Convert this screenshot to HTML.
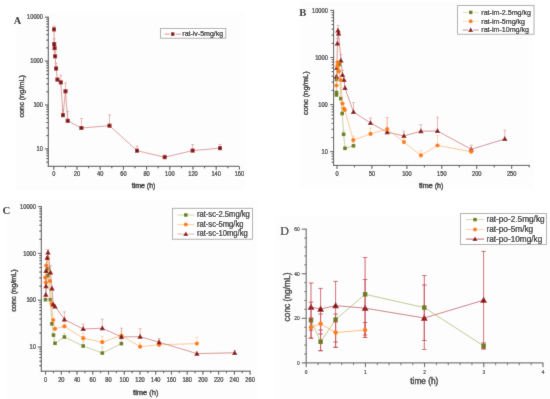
<!DOCTYPE html>
<html><head><meta charset="utf-8"><style>
html,body{margin:0;padding:0;background:#fff;width:550px;height:399px;overflow:hidden}
svg{display:block}
</style></head><body>
<svg width="550" height="399" viewBox="0 0 550 399">
<defs><filter id="bl" x="0" y="0" width="1" height="1"><feConvolveMatrix order="3" kernelMatrix="1 2 1 2 28 2 1 2 1" divisor="40" edgeMode="duplicate"/></filter></defs><g filter="url(#bl)">
<rect x="0" y="0" width="550" height="399" fill="#ffffff"/>
<rect x="16" y="13" width="229" height="177" fill="#fdfdfd"/>
<rect x="300.5" y="2" width="233" height="187" fill="#fdfdfd"/>
<rect x="6" y="200" width="251" height="199" fill="#fdfdfd"/>
<rect x="275" y="216" width="275" height="183" fill="#fdfdfd"/>
<text x="0" y="0" font-family='"Liberation Serif", serif' font-size="10.3" text-anchor="middle" fill="#111" stroke="#111" stroke-width="0" font-weight="bold" transform="translate(17.40 23.90)">A</text>
<line x1="48.30" y1="16.70" x2="48.30" y2="166.80" stroke="#444444" stroke-width="1.0"/>
<line x1="46.30" y1="162.12" x2="48.30" y2="162.12" stroke="#444444" stroke-width="1.0"/>
<line x1="46.30" y1="158.64" x2="48.30" y2="158.64" stroke="#444444" stroke-width="1.0"/>
<line x1="46.30" y1="155.70" x2="48.30" y2="155.70" stroke="#444444" stroke-width="1.0"/>
<line x1="46.30" y1="153.15" x2="48.30" y2="153.15" stroke="#444444" stroke-width="1.0"/>
<line x1="46.30" y1="150.91" x2="48.30" y2="150.91" stroke="#444444" stroke-width="1.0"/>
<line x1="44.90" y1="148.90" x2="48.30" y2="148.90" stroke="#444444" stroke-width="1.0"/>
<text x="0" y="0" font-family='"Liberation Sans", sans-serif' font-size="7.4" text-anchor="end" fill="#222" stroke="#222" stroke-width="0.22" font-weight="normal" transform="translate(42.90 151.12) scale(0.77 1)">10</text>
<line x1="46.30" y1="135.68" x2="48.30" y2="135.68" stroke="#444444" stroke-width="1.0"/>
<line x1="46.30" y1="127.95" x2="48.30" y2="127.95" stroke="#444444" stroke-width="1.0"/>
<line x1="46.30" y1="122.47" x2="48.30" y2="122.47" stroke="#444444" stroke-width="1.0"/>
<line x1="46.30" y1="118.22" x2="48.30" y2="118.22" stroke="#444444" stroke-width="1.0"/>
<line x1="46.30" y1="114.74" x2="48.30" y2="114.74" stroke="#444444" stroke-width="1.0"/>
<line x1="46.30" y1="111.80" x2="48.30" y2="111.80" stroke="#444444" stroke-width="1.0"/>
<line x1="46.30" y1="109.25" x2="48.30" y2="109.25" stroke="#444444" stroke-width="1.0"/>
<line x1="46.30" y1="107.01" x2="48.30" y2="107.01" stroke="#444444" stroke-width="1.0"/>
<line x1="44.90" y1="105.00" x2="48.30" y2="105.00" stroke="#444444" stroke-width="1.0"/>
<text x="0" y="0" font-family='"Liberation Sans", sans-serif' font-size="7.4" text-anchor="end" fill="#222" stroke="#222" stroke-width="0.22" font-weight="normal" transform="translate(42.90 107.22) scale(0.77 1)">100</text>
<line x1="46.30" y1="91.78" x2="48.30" y2="91.78" stroke="#444444" stroke-width="1.0"/>
<line x1="46.30" y1="84.05" x2="48.30" y2="84.05" stroke="#444444" stroke-width="1.0"/>
<line x1="46.30" y1="78.57" x2="48.30" y2="78.57" stroke="#444444" stroke-width="1.0"/>
<line x1="46.30" y1="74.32" x2="48.30" y2="74.32" stroke="#444444" stroke-width="1.0"/>
<line x1="46.30" y1="70.84" x2="48.30" y2="70.84" stroke="#444444" stroke-width="1.0"/>
<line x1="46.30" y1="67.90" x2="48.30" y2="67.90" stroke="#444444" stroke-width="1.0"/>
<line x1="46.30" y1="65.35" x2="48.30" y2="65.35" stroke="#444444" stroke-width="1.0"/>
<line x1="46.30" y1="63.11" x2="48.30" y2="63.11" stroke="#444444" stroke-width="1.0"/>
<line x1="44.90" y1="61.10" x2="48.30" y2="61.10" stroke="#444444" stroke-width="1.0"/>
<text x="0" y="0" font-family='"Liberation Sans", sans-serif' font-size="7.4" text-anchor="end" fill="#222" stroke="#222" stroke-width="0.22" font-weight="normal" transform="translate(42.90 63.32) scale(0.77 1)">1000</text>
<line x1="46.30" y1="47.88" x2="48.30" y2="47.88" stroke="#444444" stroke-width="1.0"/>
<line x1="46.30" y1="40.15" x2="48.30" y2="40.15" stroke="#444444" stroke-width="1.0"/>
<line x1="46.30" y1="34.67" x2="48.30" y2="34.67" stroke="#444444" stroke-width="1.0"/>
<line x1="46.30" y1="30.42" x2="48.30" y2="30.42" stroke="#444444" stroke-width="1.0"/>
<line x1="46.30" y1="26.94" x2="48.30" y2="26.94" stroke="#444444" stroke-width="1.0"/>
<line x1="46.30" y1="24.00" x2="48.30" y2="24.00" stroke="#444444" stroke-width="1.0"/>
<line x1="46.30" y1="21.45" x2="48.30" y2="21.45" stroke="#444444" stroke-width="1.0"/>
<line x1="46.30" y1="19.21" x2="48.30" y2="19.21" stroke="#444444" stroke-width="1.0"/>
<line x1="44.90" y1="17.20" x2="48.30" y2="17.20" stroke="#444444" stroke-width="1.0"/>
<text x="0" y="0" font-family='"Liberation Sans", sans-serif' font-size="7.4" text-anchor="end" fill="#222" stroke="#222" stroke-width="0.22" font-weight="normal" transform="translate(42.90 19.42) scale(0.77 1)">10000</text>
<line x1="47.80" y1="166.30" x2="239.10" y2="166.30" stroke="#444444" stroke-width="1.0"/>
<line x1="53.80" y1="166.30" x2="53.80" y2="169.80" stroke="#444444" stroke-width="1.0"/>
<text x="0" y="0" font-family='"Liberation Sans", sans-serif' font-size="7.4" text-anchor="middle" fill="#222" stroke="#222" stroke-width="0.22" font-weight="normal" transform="translate(53.80 176.30) scale(0.77 1)">0</text>
<line x1="65.40" y1="166.30" x2="65.40" y2="168.30" stroke="#444444" stroke-width="1.0"/>
<line x1="77.00" y1="166.30" x2="77.00" y2="169.80" stroke="#444444" stroke-width="1.0"/>
<text x="0" y="0" font-family='"Liberation Sans", sans-serif' font-size="7.4" text-anchor="middle" fill="#222" stroke="#222" stroke-width="0.22" font-weight="normal" transform="translate(77.00 176.30) scale(0.77 1)">20</text>
<line x1="88.60" y1="166.30" x2="88.60" y2="168.30" stroke="#444444" stroke-width="1.0"/>
<line x1="100.20" y1="166.30" x2="100.20" y2="169.80" stroke="#444444" stroke-width="1.0"/>
<text x="0" y="0" font-family='"Liberation Sans", sans-serif' font-size="7.4" text-anchor="middle" fill="#222" stroke="#222" stroke-width="0.22" font-weight="normal" transform="translate(100.20 176.30) scale(0.77 1)">40</text>
<line x1="111.80" y1="166.30" x2="111.80" y2="168.30" stroke="#444444" stroke-width="1.0"/>
<line x1="123.40" y1="166.30" x2="123.40" y2="169.80" stroke="#444444" stroke-width="1.0"/>
<text x="0" y="0" font-family='"Liberation Sans", sans-serif' font-size="7.4" text-anchor="middle" fill="#222" stroke="#222" stroke-width="0.22" font-weight="normal" transform="translate(123.40 176.30) scale(0.77 1)">60</text>
<line x1="135.00" y1="166.30" x2="135.00" y2="168.30" stroke="#444444" stroke-width="1.0"/>
<line x1="146.60" y1="166.30" x2="146.60" y2="169.80" stroke="#444444" stroke-width="1.0"/>
<text x="0" y="0" font-family='"Liberation Sans", sans-serif' font-size="7.4" text-anchor="middle" fill="#222" stroke="#222" stroke-width="0.22" font-weight="normal" transform="translate(146.60 176.30) scale(0.77 1)">80</text>
<line x1="158.20" y1="166.30" x2="158.20" y2="168.30" stroke="#444444" stroke-width="1.0"/>
<line x1="169.80" y1="166.30" x2="169.80" y2="169.80" stroke="#444444" stroke-width="1.0"/>
<text x="0" y="0" font-family='"Liberation Sans", sans-serif' font-size="7.4" text-anchor="middle" fill="#222" stroke="#222" stroke-width="0.22" font-weight="normal" transform="translate(169.80 176.30) scale(0.77 1)">100</text>
<line x1="181.40" y1="166.30" x2="181.40" y2="168.30" stroke="#444444" stroke-width="1.0"/>
<line x1="193.00" y1="166.30" x2="193.00" y2="169.80" stroke="#444444" stroke-width="1.0"/>
<text x="0" y="0" font-family='"Liberation Sans", sans-serif' font-size="7.4" text-anchor="middle" fill="#222" stroke="#222" stroke-width="0.22" font-weight="normal" transform="translate(193.00 176.30) scale(0.77 1)">120</text>
<line x1="204.60" y1="166.30" x2="204.60" y2="168.30" stroke="#444444" stroke-width="1.0"/>
<line x1="216.20" y1="166.30" x2="216.20" y2="169.80" stroke="#444444" stroke-width="1.0"/>
<text x="0" y="0" font-family='"Liberation Sans", sans-serif' font-size="7.4" text-anchor="middle" fill="#222" stroke="#222" stroke-width="0.22" font-weight="normal" transform="translate(216.20 176.30) scale(0.77 1)">140</text>
<line x1="227.80" y1="166.30" x2="227.80" y2="168.30" stroke="#444444" stroke-width="1.0"/>
<line x1="239.40" y1="166.30" x2="239.40" y2="169.80" stroke="#444444" stroke-width="1.0"/>
<text x="0" y="0" font-family='"Liberation Sans", sans-serif' font-size="7.4" text-anchor="middle" fill="#222" stroke="#222" stroke-width="0.22" font-weight="normal" transform="translate(239.40 176.30) scale(0.77 1)">160</text>
<text x="0" y="0" font-family='"Liberation Sans", sans-serif' font-size="7.3" text-anchor="middle" fill="#222" stroke="#222" stroke-width="0.35" font-weight="normal" transform="translate(23.50 96.30) rotate(-90)">conc (ng/mL)</text>
<text x="0" y="0" font-family='"Liberation Sans", sans-serif' font-size="7.0" text-anchor="middle" fill="#222" stroke="#222" stroke-width="0.35" font-weight="normal" transform="translate(143.50 187.60)">time (h)</text>
<polyline points="54.00,29.40 54.20,44.00 54.60,48.20 55.10,56.30 56.10,68.50 57.40,79.60 60.80,82.40 63.00,115.20 65.50,91.30 67.70,120.80 81.40,128.00 109.50,125.70 137.00,150.70 164.70,157.20 192.60,150.60 220.00,148.20" fill="none" stroke="#d07474" stroke-width="0.7"/>
<line x1="54.00" y1="29.40" x2="54.00" y2="26.00" stroke="#d98c8c" stroke-width="0.6"/>
<line x1="52.50" y1="26.00" x2="55.50" y2="26.00" stroke="#d98c8c" stroke-width="0.6"/>
<line x1="54.20" y1="44.00" x2="54.20" y2="38.80" stroke="#d98c8c" stroke-width="0.6"/>
<line x1="52.70" y1="38.80" x2="55.70" y2="38.80" stroke="#d98c8c" stroke-width="0.6"/>
<line x1="55.10" y1="56.30" x2="55.10" y2="52.00" stroke="#d98c8c" stroke-width="0.6"/>
<line x1="53.60" y1="52.00" x2="56.60" y2="52.00" stroke="#d98c8c" stroke-width="0.6"/>
<line x1="56.10" y1="68.50" x2="56.10" y2="63.20" stroke="#d98c8c" stroke-width="0.6"/>
<line x1="54.60" y1="63.20" x2="57.60" y2="63.20" stroke="#d98c8c" stroke-width="0.6"/>
<line x1="60.80" y1="82.40" x2="60.80" y2="75.20" stroke="#d98c8c" stroke-width="0.6"/>
<line x1="59.30" y1="75.20" x2="62.30" y2="75.20" stroke="#d98c8c" stroke-width="0.6"/>
<line x1="63.00" y1="115.20" x2="63.00" y2="110.00" stroke="#d98c8c" stroke-width="0.6"/>
<line x1="61.50" y1="110.00" x2="64.50" y2="110.00" stroke="#d98c8c" stroke-width="0.6"/>
<line x1="65.50" y1="91.30" x2="65.50" y2="83.00" stroke="#d98c8c" stroke-width="0.6"/>
<line x1="64.00" y1="83.00" x2="67.00" y2="83.00" stroke="#d98c8c" stroke-width="0.6"/>
<line x1="67.70" y1="120.80" x2="67.70" y2="111.50" stroke="#d98c8c" stroke-width="0.6"/>
<line x1="66.20" y1="111.50" x2="69.20" y2="111.50" stroke="#d98c8c" stroke-width="0.6"/>
<line x1="81.40" y1="128.00" x2="81.40" y2="118.50" stroke="#d98c8c" stroke-width="0.6"/>
<line x1="79.90" y1="118.50" x2="82.90" y2="118.50" stroke="#d98c8c" stroke-width="0.6"/>
<line x1="109.50" y1="125.70" x2="109.50" y2="115.00" stroke="#d98c8c" stroke-width="0.6"/>
<line x1="108.00" y1="115.00" x2="111.00" y2="115.00" stroke="#d98c8c" stroke-width="0.6"/>
<line x1="137.00" y1="150.70" x2="137.00" y2="146.20" stroke="#d98c8c" stroke-width="0.6"/>
<line x1="135.50" y1="146.20" x2="138.50" y2="146.20" stroke="#d98c8c" stroke-width="0.6"/>
<line x1="164.70" y1="157.20" x2="164.70" y2="155.00" stroke="#d98c8c" stroke-width="0.6"/>
<line x1="163.20" y1="155.00" x2="166.20" y2="155.00" stroke="#d98c8c" stroke-width="0.6"/>
<line x1="192.60" y1="150.60" x2="192.60" y2="144.50" stroke="#d98c8c" stroke-width="0.6"/>
<line x1="191.10" y1="144.50" x2="194.10" y2="144.50" stroke="#d98c8c" stroke-width="0.6"/>
<line x1="220.00" y1="148.20" x2="220.00" y2="144.50" stroke="#d98c8c" stroke-width="0.6"/>
<line x1="218.50" y1="144.50" x2="221.50" y2="144.50" stroke="#d98c8c" stroke-width="0.6"/>
<rect x="52.00" y="27.40" width="4.00" height="4.00" fill="#8b0a0a"/>
<rect x="52.20" y="42.00" width="4.00" height="4.00" fill="#8b0a0a"/>
<rect x="52.60" y="46.20" width="4.00" height="4.00" fill="#8b0a0a"/>
<rect x="53.10" y="54.30" width="4.00" height="4.00" fill="#8b0a0a"/>
<rect x="54.10" y="66.50" width="4.00" height="4.00" fill="#8b0a0a"/>
<rect x="55.40" y="77.60" width="4.00" height="4.00" fill="#8b0a0a"/>
<rect x="58.80" y="80.40" width="4.00" height="4.00" fill="#8b0a0a"/>
<rect x="61.00" y="113.20" width="4.00" height="4.00" fill="#8b0a0a"/>
<rect x="63.50" y="89.30" width="4.00" height="4.00" fill="#8b0a0a"/>
<rect x="65.70" y="118.80" width="4.00" height="4.00" fill="#8b0a0a"/>
<rect x="79.40" y="126.00" width="4.00" height="4.00" fill="#8b0a0a"/>
<rect x="107.50" y="123.70" width="4.00" height="4.00" fill="#8b0a0a"/>
<rect x="135.00" y="148.70" width="4.00" height="4.00" fill="#8b0a0a"/>
<rect x="162.70" y="155.20" width="4.00" height="4.00" fill="#8b0a0a"/>
<rect x="190.60" y="148.60" width="4.00" height="4.00" fill="#8b0a0a"/>
<rect x="218.00" y="146.20" width="4.00" height="4.00" fill="#8b0a0a"/>
<rect x="160.50" y="28.40" width="65.30" height="9.80" fill="#fff" stroke="#9a9a9a" stroke-width="0.8"/>
<line x1="164.50" y1="34.10" x2="169.70" y2="34.10" stroke="#c86464" stroke-width="0.7"/>
<line x1="175.70" y1="34.10" x2="180.90" y2="34.10" stroke="#c86464" stroke-width="0.7"/>
<rect x="170.95" y="32.35" width="3.50" height="3.50" fill="#8b0a0a"/>
<text x="0" y="0" font-family='"Liberation Sans", sans-serif' font-size="7.8" text-anchor="start" fill="#151515" stroke="#151515" stroke-width="0.22" font-weight="normal" transform="translate(182.30 36.16) scale(0.9 1)">rat-iv-5mg/kg</text>
<text x="0" y="0" font-family='"Liberation Serif", serif' font-size="10.6" text-anchor="middle" fill="#111" stroke="#111" stroke-width="0" font-weight="bold" transform="translate(302.80 15.60)">B</text>
<line x1="333.60" y1="9.90" x2="333.60" y2="165.90" stroke="#444444" stroke-width="1.0"/>
<line x1="331.60" y1="162.15" x2="333.60" y2="162.15" stroke="#444444" stroke-width="1.0"/>
<line x1="331.60" y1="159.00" x2="333.60" y2="159.00" stroke="#444444" stroke-width="1.0"/>
<line x1="331.60" y1="156.26" x2="333.60" y2="156.26" stroke="#444444" stroke-width="1.0"/>
<line x1="331.60" y1="153.86" x2="333.60" y2="153.86" stroke="#444444" stroke-width="1.0"/>
<line x1="330.20" y1="151.70" x2="333.60" y2="151.70" stroke="#444444" stroke-width="1.0"/>
<text x="0" y="0" font-family='"Liberation Sans", sans-serif' font-size="7.4" text-anchor="end" fill="#222" stroke="#222" stroke-width="0.22" font-weight="normal" transform="translate(327.80 153.92) scale(0.77 1)">10</text>
<line x1="331.60" y1="137.52" x2="333.60" y2="137.52" stroke="#444444" stroke-width="1.0"/>
<line x1="331.60" y1="129.23" x2="333.60" y2="129.23" stroke="#444444" stroke-width="1.0"/>
<line x1="331.60" y1="123.34" x2="333.60" y2="123.34" stroke="#444444" stroke-width="1.0"/>
<line x1="331.60" y1="118.78" x2="333.60" y2="118.78" stroke="#444444" stroke-width="1.0"/>
<line x1="331.60" y1="115.05" x2="333.60" y2="115.05" stroke="#444444" stroke-width="1.0"/>
<line x1="331.60" y1="111.90" x2="333.60" y2="111.90" stroke="#444444" stroke-width="1.0"/>
<line x1="331.60" y1="109.16" x2="333.60" y2="109.16" stroke="#444444" stroke-width="1.0"/>
<line x1="331.60" y1="106.76" x2="333.60" y2="106.76" stroke="#444444" stroke-width="1.0"/>
<line x1="330.20" y1="104.60" x2="333.60" y2="104.60" stroke="#444444" stroke-width="1.0"/>
<text x="0" y="0" font-family='"Liberation Sans", sans-serif' font-size="7.4" text-anchor="end" fill="#222" stroke="#222" stroke-width="0.22" font-weight="normal" transform="translate(327.80 106.82) scale(0.77 1)">100</text>
<line x1="331.60" y1="90.42" x2="333.60" y2="90.42" stroke="#444444" stroke-width="1.0"/>
<line x1="331.60" y1="82.13" x2="333.60" y2="82.13" stroke="#444444" stroke-width="1.0"/>
<line x1="331.60" y1="76.24" x2="333.60" y2="76.24" stroke="#444444" stroke-width="1.0"/>
<line x1="331.60" y1="71.68" x2="333.60" y2="71.68" stroke="#444444" stroke-width="1.0"/>
<line x1="331.60" y1="67.95" x2="333.60" y2="67.95" stroke="#444444" stroke-width="1.0"/>
<line x1="331.60" y1="64.80" x2="333.60" y2="64.80" stroke="#444444" stroke-width="1.0"/>
<line x1="331.60" y1="62.06" x2="333.60" y2="62.06" stroke="#444444" stroke-width="1.0"/>
<line x1="331.60" y1="59.66" x2="333.60" y2="59.66" stroke="#444444" stroke-width="1.0"/>
<line x1="330.20" y1="57.50" x2="333.60" y2="57.50" stroke="#444444" stroke-width="1.0"/>
<text x="0" y="0" font-family='"Liberation Sans", sans-serif' font-size="7.4" text-anchor="end" fill="#222" stroke="#222" stroke-width="0.22" font-weight="normal" transform="translate(327.80 59.72) scale(0.77 1)">1000</text>
<line x1="331.60" y1="43.32" x2="333.60" y2="43.32" stroke="#444444" stroke-width="1.0"/>
<line x1="331.60" y1="35.03" x2="333.60" y2="35.03" stroke="#444444" stroke-width="1.0"/>
<line x1="331.60" y1="29.14" x2="333.60" y2="29.14" stroke="#444444" stroke-width="1.0"/>
<line x1="331.60" y1="24.58" x2="333.60" y2="24.58" stroke="#444444" stroke-width="1.0"/>
<line x1="331.60" y1="20.85" x2="333.60" y2="20.85" stroke="#444444" stroke-width="1.0"/>
<line x1="331.60" y1="17.70" x2="333.60" y2="17.70" stroke="#444444" stroke-width="1.0"/>
<line x1="331.60" y1="14.96" x2="333.60" y2="14.96" stroke="#444444" stroke-width="1.0"/>
<line x1="331.60" y1="12.56" x2="333.60" y2="12.56" stroke="#444444" stroke-width="1.0"/>
<line x1="330.20" y1="10.40" x2="333.60" y2="10.40" stroke="#444444" stroke-width="1.0"/>
<text x="0" y="0" font-family='"Liberation Sans", sans-serif' font-size="7.4" text-anchor="end" fill="#222" stroke="#222" stroke-width="0.22" font-weight="normal" transform="translate(327.80 12.62) scale(0.77 1)">10000</text>
<line x1="333.10" y1="165.40" x2="529.80" y2="165.40" stroke="#444444" stroke-width="1.0"/>
<line x1="337.00" y1="165.40" x2="337.00" y2="168.90" stroke="#444444" stroke-width="1.0"/>
<text x="0" y="0" font-family='"Liberation Sans", sans-serif' font-size="7.4" text-anchor="middle" fill="#222" stroke="#222" stroke-width="0.22" font-weight="normal" transform="translate(337.00 175.90) scale(0.77 1)">0</text>
<line x1="354.47" y1="165.40" x2="354.47" y2="167.40" stroke="#444444" stroke-width="1.0"/>
<line x1="371.94" y1="165.40" x2="371.94" y2="168.90" stroke="#444444" stroke-width="1.0"/>
<text x="0" y="0" font-family='"Liberation Sans", sans-serif' font-size="7.4" text-anchor="middle" fill="#222" stroke="#222" stroke-width="0.22" font-weight="normal" transform="translate(371.94 175.90) scale(0.77 1)">50</text>
<line x1="389.41" y1="165.40" x2="389.41" y2="167.40" stroke="#444444" stroke-width="1.0"/>
<line x1="406.88" y1="165.40" x2="406.88" y2="168.90" stroke="#444444" stroke-width="1.0"/>
<text x="0" y="0" font-family='"Liberation Sans", sans-serif' font-size="7.4" text-anchor="middle" fill="#222" stroke="#222" stroke-width="0.22" font-weight="normal" transform="translate(406.88 175.90) scale(0.77 1)">100</text>
<line x1="424.35" y1="165.40" x2="424.35" y2="167.40" stroke="#444444" stroke-width="1.0"/>
<line x1="441.82" y1="165.40" x2="441.82" y2="168.90" stroke="#444444" stroke-width="1.0"/>
<text x="0" y="0" font-family='"Liberation Sans", sans-serif' font-size="7.4" text-anchor="middle" fill="#222" stroke="#222" stroke-width="0.22" font-weight="normal" transform="translate(441.82 175.90) scale(0.77 1)">150</text>
<line x1="459.29" y1="165.40" x2="459.29" y2="167.40" stroke="#444444" stroke-width="1.0"/>
<line x1="476.76" y1="165.40" x2="476.76" y2="168.90" stroke="#444444" stroke-width="1.0"/>
<text x="0" y="0" font-family='"Liberation Sans", sans-serif' font-size="7.4" text-anchor="middle" fill="#222" stroke="#222" stroke-width="0.22" font-weight="normal" transform="translate(476.76 175.90) scale(0.77 1)">200</text>
<line x1="494.23" y1="165.40" x2="494.23" y2="167.40" stroke="#444444" stroke-width="1.0"/>
<line x1="511.70" y1="165.40" x2="511.70" y2="168.90" stroke="#444444" stroke-width="1.0"/>
<text x="0" y="0" font-family='"Liberation Sans", sans-serif' font-size="7.4" text-anchor="middle" fill="#222" stroke="#222" stroke-width="0.22" font-weight="normal" transform="translate(511.70 175.90) scale(0.77 1)">250</text>
<line x1="529.17" y1="165.40" x2="529.17" y2="167.40" stroke="#444444" stroke-width="1.0"/>
<text x="0" y="0" font-family='"Liberation Sans", sans-serif' font-size="7.5" text-anchor="middle" fill="#222" stroke="#222" stroke-width="0.35" font-weight="normal" transform="translate(307.60 93.20) rotate(-90)">conc (ng/mL)</text>
<text x="0" y="0" font-family='"Liberation Sans", sans-serif' font-size="7.2" text-anchor="middle" fill="#222" stroke="#222" stroke-width="0.35" font-weight="normal" transform="translate(431.30 187.60)">time (h)</text>
<polyline points="336.50,95.00 336.50,92.50 336.50,79.50 339.10,64.50 340.80,98.60 342.20,113.50 343.60,134.30 345.00,148.30 353.50,145.80" fill="none" stroke="#b4bb78" stroke-width="0.7"/>
<line x1="342.20" y1="113.50" x2="342.20" y2="108.00" stroke="#c4c890" stroke-width="0.6"/>
<line x1="340.70" y1="108.00" x2="343.70" y2="108.00" stroke="#c4c890" stroke-width="0.6"/>
<line x1="343.60" y1="134.30" x2="343.60" y2="131.00" stroke="#c4c890" stroke-width="0.6"/>
<line x1="342.10" y1="131.00" x2="345.10" y2="131.00" stroke="#c4c890" stroke-width="0.6"/>
<line x1="353.50" y1="145.80" x2="353.50" y2="142.50" stroke="#c4c890" stroke-width="0.6"/>
<line x1="352.00" y1="142.50" x2="355.00" y2="142.50" stroke="#c4c890" stroke-width="0.6"/>
<rect x="334.70" y="93.20" width="3.60" height="3.60" fill="#6e7a12"/>
<rect x="334.70" y="90.70" width="3.60" height="3.60" fill="#6e7a12"/>
<rect x="334.70" y="77.70" width="3.60" height="3.60" fill="#6e7a12"/>
<rect x="337.30" y="62.70" width="3.60" height="3.60" fill="#6e7a12"/>
<rect x="339.00" y="96.80" width="3.60" height="3.60" fill="#6e7a12"/>
<rect x="340.40" y="111.70" width="3.60" height="3.60" fill="#6e7a12"/>
<rect x="341.80" y="132.50" width="3.60" height="3.60" fill="#6e7a12"/>
<rect x="343.20" y="146.50" width="3.60" height="3.60" fill="#6e7a12"/>
<rect x="351.70" y="144.00" width="3.60" height="3.60" fill="#6e7a12"/>
<polyline points="336.50,76.50 336.90,68.00 337.40,43.30 338.00,30.50 338.60,33.50 340.90,60.40 342.50,75.00 344.00,80.00 345.00,88.00 353.50,112.00 370.50,123.00 387.20,132.10 403.90,136.00 420.90,131.20 437.50,131.00 471.20,149.30 504.80,139.00" fill="none" stroke="#c86464" stroke-width="0.7"/>
<line x1="337.40" y1="43.30" x2="337.40" y2="38.40" stroke="#d98c8c" stroke-width="0.6"/>
<line x1="335.90" y1="38.40" x2="338.90" y2="38.40" stroke="#d98c8c" stroke-width="0.6"/>
<line x1="338.00" y1="30.50" x2="338.00" y2="25.40" stroke="#d98c8c" stroke-width="0.6"/>
<line x1="336.50" y1="25.40" x2="339.50" y2="25.40" stroke="#d98c8c" stroke-width="0.6"/>
<line x1="340.90" y1="60.40" x2="340.90" y2="54.60" stroke="#d98c8c" stroke-width="0.6"/>
<line x1="339.40" y1="54.60" x2="342.40" y2="54.60" stroke="#d98c8c" stroke-width="0.6"/>
<line x1="342.50" y1="75.00" x2="342.50" y2="70.20" stroke="#d98c8c" stroke-width="0.6"/>
<line x1="341.00" y1="70.20" x2="344.00" y2="70.20" stroke="#d98c8c" stroke-width="0.6"/>
<line x1="353.50" y1="112.00" x2="353.50" y2="102.60" stroke="#d98c8c" stroke-width="0.6"/>
<line x1="352.00" y1="102.60" x2="355.00" y2="102.60" stroke="#d98c8c" stroke-width="0.6"/>
<line x1="370.50" y1="123.00" x2="370.50" y2="118.00" stroke="#d98c8c" stroke-width="0.6"/>
<line x1="369.00" y1="118.00" x2="372.00" y2="118.00" stroke="#d98c8c" stroke-width="0.6"/>
<line x1="387.20" y1="132.10" x2="387.20" y2="117.50" stroke="#d98c8c" stroke-width="0.6"/>
<line x1="385.70" y1="117.50" x2="388.70" y2="117.50" stroke="#d98c8c" stroke-width="0.6"/>
<line x1="403.90" y1="136.00" x2="403.90" y2="131.20" stroke="#d98c8c" stroke-width="0.6"/>
<line x1="402.40" y1="131.20" x2="405.40" y2="131.20" stroke="#d98c8c" stroke-width="0.6"/>
<line x1="420.90" y1="131.20" x2="420.90" y2="124.60" stroke="#d98c8c" stroke-width="0.6"/>
<line x1="419.40" y1="124.60" x2="422.40" y2="124.60" stroke="#d98c8c" stroke-width="0.6"/>
<line x1="437.50" y1="131.00" x2="437.50" y2="117.30" stroke="#d98c8c" stroke-width="0.6"/>
<line x1="436.00" y1="117.30" x2="439.00" y2="117.30" stroke="#d98c8c" stroke-width="0.6"/>
<line x1="471.20" y1="149.30" x2="471.20" y2="145.20" stroke="#d98c8c" stroke-width="0.6"/>
<line x1="469.70" y1="145.20" x2="472.70" y2="145.20" stroke="#d98c8c" stroke-width="0.6"/>
<line x1="504.80" y1="139.00" x2="504.80" y2="130.10" stroke="#d98c8c" stroke-width="0.6"/>
<line x1="503.30" y1="130.10" x2="506.30" y2="130.10" stroke="#d98c8c" stroke-width="0.6"/>
<polygon points="336.50,73.59 339.20,78.61 333.80,78.61" fill="#8b0a0a"/>
<polygon points="336.90,65.09 339.60,70.11 334.20,70.11" fill="#8b0a0a"/>
<polygon points="337.40,40.39 340.10,45.41 334.70,45.41" fill="#8b0a0a"/>
<polygon points="338.00,27.59 340.70,32.62 335.30,32.62" fill="#8b0a0a"/>
<polygon points="338.60,30.59 341.30,35.62 335.90,35.62" fill="#8b0a0a"/>
<polygon points="340.90,57.49 343.60,62.52 338.20,62.52" fill="#8b0a0a"/>
<polygon points="342.50,72.09 345.20,77.11 339.80,77.11" fill="#8b0a0a"/>
<polygon points="344.00,77.09 346.70,82.11 341.30,82.11" fill="#8b0a0a"/>
<polygon points="345.00,85.09 347.70,90.11 342.30,90.11" fill="#8b0a0a"/>
<polygon points="353.50,109.09 356.20,114.11 350.80,114.11" fill="#8b0a0a"/>
<polygon points="370.50,120.09 373.20,125.11 367.80,125.11" fill="#8b0a0a"/>
<polygon points="387.20,129.19 389.90,134.22 384.50,134.22" fill="#8b0a0a"/>
<polygon points="403.90,133.09 406.60,138.12 401.20,138.12" fill="#8b0a0a"/>
<polygon points="420.90,128.29 423.60,133.31 418.20,133.31" fill="#8b0a0a"/>
<polygon points="437.50,128.09 440.20,133.12 434.80,133.12" fill="#8b0a0a"/>
<polygon points="471.20,146.39 473.90,151.42 468.50,151.42" fill="#8b0a0a"/>
<polygon points="504.80,136.09 507.50,141.12 502.10,141.12" fill="#8b0a0a"/>
<polyline points="336.50,85.50 337.30,66.00 337.60,62.30 338.80,71.30 340.80,80.00 342.50,103.60 344.00,108.60 344.80,110.00 353.30,140.10 370.50,133.90 387.20,129.10 403.90,142.10 420.90,155.40 437.50,145.50 471.20,151.70" fill="none" stroke="#ffb06a" stroke-width="0.7"/>
<line x1="353.30" y1="140.10" x2="353.30" y2="136.00" stroke="#ffc48e" stroke-width="0.6"/>
<line x1="351.80" y1="136.00" x2="354.80" y2="136.00" stroke="#ffc48e" stroke-width="0.6"/>
<line x1="370.50" y1="133.90" x2="370.50" y2="128.00" stroke="#ffc48e" stroke-width="0.6"/>
<line x1="369.00" y1="128.00" x2="372.00" y2="128.00" stroke="#ffc48e" stroke-width="0.6"/>
<line x1="387.20" y1="129.10" x2="387.20" y2="117.50" stroke="#ffc48e" stroke-width="0.6"/>
<line x1="385.70" y1="117.50" x2="388.70" y2="117.50" stroke="#ffc48e" stroke-width="0.6"/>
<line x1="403.90" y1="142.10" x2="403.90" y2="138.00" stroke="#ffc48e" stroke-width="0.6"/>
<line x1="402.40" y1="138.00" x2="405.40" y2="138.00" stroke="#ffc48e" stroke-width="0.6"/>
<line x1="420.90" y1="155.40" x2="420.90" y2="150.50" stroke="#ffc48e" stroke-width="0.6"/>
<line x1="419.40" y1="150.50" x2="422.40" y2="150.50" stroke="#ffc48e" stroke-width="0.6"/>
<line x1="437.50" y1="145.50" x2="437.50" y2="135.40" stroke="#ffc48e" stroke-width="0.6"/>
<line x1="436.00" y1="135.40" x2="439.00" y2="135.40" stroke="#ffc48e" stroke-width="0.6"/>
<line x1="471.20" y1="151.70" x2="471.20" y2="148.00" stroke="#ffc48e" stroke-width="0.6"/>
<line x1="469.70" y1="148.00" x2="472.70" y2="148.00" stroke="#ffc48e" stroke-width="0.6"/>
<circle cx="336.50" cy="85.50" r="2.10" fill="#ff7d05"/>
<circle cx="337.30" cy="66.00" r="2.10" fill="#ff7d05"/>
<circle cx="337.60" cy="62.30" r="2.10" fill="#ff7d05"/>
<circle cx="338.80" cy="71.30" r="2.10" fill="#ff7d05"/>
<circle cx="340.80" cy="80.00" r="2.10" fill="#ff7d05"/>
<circle cx="342.50" cy="103.60" r="2.10" fill="#ff7d05"/>
<circle cx="344.00" cy="108.60" r="2.10" fill="#ff7d05"/>
<circle cx="344.80" cy="110.00" r="2.10" fill="#ff7d05"/>
<circle cx="353.30" cy="140.10" r="2.10" fill="#ff7d05"/>
<circle cx="370.50" cy="133.90" r="2.10" fill="#ff7d05"/>
<circle cx="387.20" cy="129.10" r="2.10" fill="#ff7d05"/>
<circle cx="403.90" cy="142.10" r="2.10" fill="#ff7d05"/>
<circle cx="420.90" cy="155.40" r="2.10" fill="#ff7d05"/>
<circle cx="437.50" cy="145.50" r="2.10" fill="#ff7d05"/>
<circle cx="471.20" cy="151.70" r="2.10" fill="#ff7d05"/>
<rect x="457.60" y="5.50" width="76.40" height="28.70" fill="#fff" stroke="#9a9a9a" stroke-width="0.8"/>
<line x1="462.70" y1="12.40" x2="468.10" y2="12.40" stroke="#c4c890" stroke-width="0.6"/>
<line x1="473.30" y1="12.40" x2="478.70" y2="12.40" stroke="#c4c890" stroke-width="0.6"/>
<rect x="468.95" y="10.65" width="3.50" height="3.50" fill="#6e7a12"/>
<text x="0" y="0" font-family='"Liberation Sans", sans-serif' font-size="7.9" text-anchor="start" fill="#151515" stroke="#151515" stroke-width="0.22" font-weight="normal" transform="translate(481.30 14.64) scale(0.9 1)">rat-im-2.5mg/kg</text>
<line x1="462.70" y1="21.30" x2="468.10" y2="21.30" stroke="#ffc898" stroke-width="0.6"/>
<line x1="473.30" y1="21.30" x2="478.70" y2="21.30" stroke="#ffc898" stroke-width="0.6"/>
<circle cx="470.70" cy="21.30" r="2.00" fill="#ff7d05"/>
<text x="0" y="0" font-family='"Liberation Sans", sans-serif' font-size="7.9" text-anchor="start" fill="#151515" stroke="#151515" stroke-width="0.22" font-weight="normal" transform="translate(481.30 23.54) scale(0.9 1)">rat-im-5mg/kg</text>
<line x1="462.70" y1="30.00" x2="468.10" y2="30.00" stroke="#a83a3a" stroke-width="0.6"/>
<line x1="473.30" y1="30.00" x2="478.70" y2="30.00" stroke="#a83a3a" stroke-width="0.6"/>
<polygon points="470.70,27.33 473.17,31.93 468.23,31.93" fill="#8b0a0a"/>
<text x="0" y="0" font-family='"Liberation Sans", sans-serif' font-size="7.9" text-anchor="start" fill="#151515" stroke="#151515" stroke-width="0.22" font-weight="normal" transform="translate(481.30 32.24) scale(0.9 1)">rat-im-10mg/kg</text>
<text x="0" y="0" font-family='"Liberation Serif", serif' font-size="10.8" text-anchor="middle" fill="#111" stroke="#111" stroke-width="0" font-weight="bold" transform="translate(6.40 214.20)">C</text>
<line x1="41.30" y1="206.10" x2="41.30" y2="371.70" stroke="#444444" stroke-width="1.0"/>
<line x1="39.30" y1="365.73" x2="41.30" y2="365.73" stroke="#444444" stroke-width="1.0"/>
<line x1="39.30" y1="361.19" x2="41.30" y2="361.19" stroke="#444444" stroke-width="1.0"/>
<line x1="39.30" y1="357.48" x2="41.30" y2="357.48" stroke="#444444" stroke-width="1.0"/>
<line x1="39.30" y1="354.34" x2="41.30" y2="354.34" stroke="#444444" stroke-width="1.0"/>
<line x1="39.30" y1="351.63" x2="41.30" y2="351.63" stroke="#444444" stroke-width="1.0"/>
<line x1="39.30" y1="349.23" x2="41.30" y2="349.23" stroke="#444444" stroke-width="1.0"/>
<line x1="37.90" y1="347.09" x2="41.30" y2="347.09" stroke="#444444" stroke-width="1.0"/>
<text x="0" y="0" font-family='"Liberation Sans", sans-serif' font-size="7.4" text-anchor="end" fill="#222" stroke="#222" stroke-width="0.22" font-weight="normal" transform="translate(35.90 349.31) scale(0.77 1)">10</text>
<line x1="39.30" y1="332.99" x2="41.30" y2="332.99" stroke="#444444" stroke-width="1.0"/>
<line x1="39.30" y1="324.75" x2="41.30" y2="324.75" stroke="#444444" stroke-width="1.0"/>
<line x1="39.30" y1="318.90" x2="41.30" y2="318.90" stroke="#444444" stroke-width="1.0"/>
<line x1="39.30" y1="314.36" x2="41.30" y2="314.36" stroke="#444444" stroke-width="1.0"/>
<line x1="39.30" y1="310.65" x2="41.30" y2="310.65" stroke="#444444" stroke-width="1.0"/>
<line x1="39.30" y1="307.51" x2="41.30" y2="307.51" stroke="#444444" stroke-width="1.0"/>
<line x1="39.30" y1="304.80" x2="41.30" y2="304.80" stroke="#444444" stroke-width="1.0"/>
<line x1="39.30" y1="302.40" x2="41.30" y2="302.40" stroke="#444444" stroke-width="1.0"/>
<line x1="37.90" y1="300.26" x2="41.30" y2="300.26" stroke="#444444" stroke-width="1.0"/>
<text x="0" y="0" font-family='"Liberation Sans", sans-serif' font-size="7.4" text-anchor="end" fill="#222" stroke="#222" stroke-width="0.22" font-weight="normal" transform="translate(35.90 302.48) scale(0.77 1)">100</text>
<line x1="39.30" y1="286.16" x2="41.30" y2="286.16" stroke="#444444" stroke-width="1.0"/>
<line x1="39.30" y1="277.92" x2="41.30" y2="277.92" stroke="#444444" stroke-width="1.0"/>
<line x1="39.30" y1="272.07" x2="41.30" y2="272.07" stroke="#444444" stroke-width="1.0"/>
<line x1="39.30" y1="267.53" x2="41.30" y2="267.53" stroke="#444444" stroke-width="1.0"/>
<line x1="39.30" y1="263.82" x2="41.30" y2="263.82" stroke="#444444" stroke-width="1.0"/>
<line x1="39.30" y1="260.68" x2="41.30" y2="260.68" stroke="#444444" stroke-width="1.0"/>
<line x1="39.30" y1="257.97" x2="41.30" y2="257.97" stroke="#444444" stroke-width="1.0"/>
<line x1="39.30" y1="255.57" x2="41.30" y2="255.57" stroke="#444444" stroke-width="1.0"/>
<line x1="37.90" y1="253.43" x2="41.30" y2="253.43" stroke="#444444" stroke-width="1.0"/>
<text x="0" y="0" font-family='"Liberation Sans", sans-serif' font-size="7.4" text-anchor="end" fill="#222" stroke="#222" stroke-width="0.22" font-weight="normal" transform="translate(35.90 255.65) scale(0.77 1)">1000</text>
<line x1="39.30" y1="239.33" x2="41.30" y2="239.33" stroke="#444444" stroke-width="1.0"/>
<line x1="39.30" y1="231.09" x2="41.30" y2="231.09" stroke="#444444" stroke-width="1.0"/>
<line x1="39.30" y1="225.24" x2="41.30" y2="225.24" stroke="#444444" stroke-width="1.0"/>
<line x1="39.30" y1="220.70" x2="41.30" y2="220.70" stroke="#444444" stroke-width="1.0"/>
<line x1="39.30" y1="216.99" x2="41.30" y2="216.99" stroke="#444444" stroke-width="1.0"/>
<line x1="39.30" y1="213.85" x2="41.30" y2="213.85" stroke="#444444" stroke-width="1.0"/>
<line x1="39.30" y1="211.14" x2="41.30" y2="211.14" stroke="#444444" stroke-width="1.0"/>
<line x1="39.30" y1="208.74" x2="41.30" y2="208.74" stroke="#444444" stroke-width="1.0"/>
<line x1="37.90" y1="206.60" x2="41.30" y2="206.60" stroke="#444444" stroke-width="1.0"/>
<text x="0" y="0" font-family='"Liberation Sans", sans-serif' font-size="7.4" text-anchor="end" fill="#222" stroke="#222" stroke-width="0.22" font-weight="normal" transform="translate(35.90 208.82) scale(0.77 1)">10000</text>
<line x1="40.80" y1="371.20" x2="250.60" y2="371.20" stroke="#444444" stroke-width="1.0"/>
<line x1="45.60" y1="371.20" x2="45.60" y2="374.70" stroke="#444444" stroke-width="1.0"/>
<text x="0" y="0" font-family='"Liberation Sans", sans-serif' font-size="7.4" text-anchor="middle" fill="#222" stroke="#222" stroke-width="0.22" font-weight="normal" transform="translate(45.60 382.40) scale(0.77 1)">0</text>
<line x1="53.47" y1="371.20" x2="53.47" y2="373.20" stroke="#444444" stroke-width="1.0"/>
<line x1="61.33" y1="371.20" x2="61.33" y2="374.70" stroke="#444444" stroke-width="1.0"/>
<text x="0" y="0" font-family='"Liberation Sans", sans-serif' font-size="7.4" text-anchor="middle" fill="#222" stroke="#222" stroke-width="0.22" font-weight="normal" transform="translate(61.33 382.40) scale(0.77 1)">20</text>
<line x1="69.19" y1="371.20" x2="69.19" y2="373.20" stroke="#444444" stroke-width="1.0"/>
<line x1="77.06" y1="371.20" x2="77.06" y2="374.70" stroke="#444444" stroke-width="1.0"/>
<text x="0" y="0" font-family='"Liberation Sans", sans-serif' font-size="7.4" text-anchor="middle" fill="#222" stroke="#222" stroke-width="0.22" font-weight="normal" transform="translate(77.06 382.40) scale(0.77 1)">40</text>
<line x1="84.92" y1="371.20" x2="84.92" y2="373.20" stroke="#444444" stroke-width="1.0"/>
<line x1="92.79" y1="371.20" x2="92.79" y2="374.70" stroke="#444444" stroke-width="1.0"/>
<text x="0" y="0" font-family='"Liberation Sans", sans-serif' font-size="7.4" text-anchor="middle" fill="#222" stroke="#222" stroke-width="0.22" font-weight="normal" transform="translate(92.79 382.40) scale(0.77 1)">60</text>
<line x1="100.66" y1="371.20" x2="100.66" y2="373.20" stroke="#444444" stroke-width="1.0"/>
<line x1="108.52" y1="371.20" x2="108.52" y2="374.70" stroke="#444444" stroke-width="1.0"/>
<text x="0" y="0" font-family='"Liberation Sans", sans-serif' font-size="7.4" text-anchor="middle" fill="#222" stroke="#222" stroke-width="0.22" font-weight="normal" transform="translate(108.52 382.40) scale(0.77 1)">80</text>
<line x1="116.38" y1="371.20" x2="116.38" y2="373.20" stroke="#444444" stroke-width="1.0"/>
<line x1="124.25" y1="371.20" x2="124.25" y2="374.70" stroke="#444444" stroke-width="1.0"/>
<text x="0" y="0" font-family='"Liberation Sans", sans-serif' font-size="7.4" text-anchor="middle" fill="#222" stroke="#222" stroke-width="0.22" font-weight="normal" transform="translate(124.25 382.40) scale(0.77 1)">100</text>
<line x1="132.12" y1="371.20" x2="132.12" y2="373.20" stroke="#444444" stroke-width="1.0"/>
<line x1="139.98" y1="371.20" x2="139.98" y2="374.70" stroke="#444444" stroke-width="1.0"/>
<text x="0" y="0" font-family='"Liberation Sans", sans-serif' font-size="7.4" text-anchor="middle" fill="#222" stroke="#222" stroke-width="0.22" font-weight="normal" transform="translate(139.98 382.40) scale(0.77 1)">120</text>
<line x1="147.84" y1="371.20" x2="147.84" y2="373.20" stroke="#444444" stroke-width="1.0"/>
<line x1="155.71" y1="371.20" x2="155.71" y2="374.70" stroke="#444444" stroke-width="1.0"/>
<text x="0" y="0" font-family='"Liberation Sans", sans-serif' font-size="7.4" text-anchor="middle" fill="#222" stroke="#222" stroke-width="0.22" font-weight="normal" transform="translate(155.71 382.40) scale(0.77 1)">140</text>
<line x1="163.57" y1="371.20" x2="163.57" y2="373.20" stroke="#444444" stroke-width="1.0"/>
<line x1="171.44" y1="371.20" x2="171.44" y2="374.70" stroke="#444444" stroke-width="1.0"/>
<text x="0" y="0" font-family='"Liberation Sans", sans-serif' font-size="7.4" text-anchor="middle" fill="#222" stroke="#222" stroke-width="0.22" font-weight="normal" transform="translate(171.44 382.40) scale(0.77 1)">160</text>
<line x1="179.30" y1="371.20" x2="179.30" y2="373.20" stroke="#444444" stroke-width="1.0"/>
<line x1="187.17" y1="371.20" x2="187.17" y2="374.70" stroke="#444444" stroke-width="1.0"/>
<text x="0" y="0" font-family='"Liberation Sans", sans-serif' font-size="7.4" text-anchor="middle" fill="#222" stroke="#222" stroke-width="0.22" font-weight="normal" transform="translate(187.17 382.40) scale(0.77 1)">180</text>
<line x1="195.03" y1="371.20" x2="195.03" y2="373.20" stroke="#444444" stroke-width="1.0"/>
<line x1="202.90" y1="371.20" x2="202.90" y2="374.70" stroke="#444444" stroke-width="1.0"/>
<text x="0" y="0" font-family='"Liberation Sans", sans-serif' font-size="7.4" text-anchor="middle" fill="#222" stroke="#222" stroke-width="0.22" font-weight="normal" transform="translate(202.90 382.40) scale(0.77 1)">200</text>
<line x1="210.76" y1="371.20" x2="210.76" y2="373.20" stroke="#444444" stroke-width="1.0"/>
<line x1="218.63" y1="371.20" x2="218.63" y2="374.70" stroke="#444444" stroke-width="1.0"/>
<text x="0" y="0" font-family='"Liberation Sans", sans-serif' font-size="7.4" text-anchor="middle" fill="#222" stroke="#222" stroke-width="0.22" font-weight="normal" transform="translate(218.63 382.40) scale(0.77 1)">220</text>
<line x1="226.49" y1="371.20" x2="226.49" y2="373.20" stroke="#444444" stroke-width="1.0"/>
<line x1="234.36" y1="371.20" x2="234.36" y2="374.70" stroke="#444444" stroke-width="1.0"/>
<text x="0" y="0" font-family='"Liberation Sans", sans-serif' font-size="7.4" text-anchor="middle" fill="#222" stroke="#222" stroke-width="0.22" font-weight="normal" transform="translate(234.36 382.40) scale(0.77 1)">240</text>
<line x1="242.22" y1="371.20" x2="242.22" y2="373.20" stroke="#444444" stroke-width="1.0"/>
<line x1="250.09" y1="371.20" x2="250.09" y2="374.70" stroke="#444444" stroke-width="1.0"/>
<text x="0" y="0" font-family='"Liberation Sans", sans-serif' font-size="7.4" text-anchor="middle" fill="#222" stroke="#222" stroke-width="0.22" font-weight="normal" transform="translate(250.09 382.40) scale(0.77 1)">260</text>
<text x="0" y="0" font-family='"Liberation Sans", sans-serif' font-size="7.3" text-anchor="middle" fill="#222" stroke="#222" stroke-width="0.35" font-weight="normal" transform="translate(15.60 290.50) rotate(-90)">conc (ng/mL)</text>
<text x="0" y="0" font-family='"Liberation Sans", sans-serif' font-size="7.5" text-anchor="middle" fill="#222" stroke="#222" stroke-width="0.35" font-weight="normal" transform="translate(145.80 395.00)">time (h)</text>
<polyline points="45.50,299.70 48.00,268.60 48.00,275.60 50.40,299.70 51.90,323.80 53.50,335.10 55.00,343.30 64.40,337.00 83.20,346.00 102.30,353.10 121.40,343.60" fill="none" stroke="#b4bb78" stroke-width="0.7"/>
<line x1="64.40" y1="337.00" x2="64.40" y2="333.50" stroke="#c4c890" stroke-width="0.6"/>
<line x1="62.90" y1="333.50" x2="65.90" y2="333.50" stroke="#c4c890" stroke-width="0.6"/>
<line x1="83.20" y1="346.00" x2="83.20" y2="341.00" stroke="#c4c890" stroke-width="0.6"/>
<line x1="81.70" y1="341.00" x2="84.70" y2="341.00" stroke="#c4c890" stroke-width="0.6"/>
<line x1="102.30" y1="353.10" x2="102.30" y2="347.00" stroke="#c4c890" stroke-width="0.6"/>
<line x1="100.80" y1="347.00" x2="103.80" y2="347.00" stroke="#c4c890" stroke-width="0.6"/>
<line x1="121.40" y1="343.60" x2="121.40" y2="339.50" stroke="#c4c890" stroke-width="0.6"/>
<line x1="119.90" y1="339.50" x2="122.90" y2="339.50" stroke="#c4c890" stroke-width="0.6"/>
<rect x="43.70" y="297.90" width="3.60" height="3.60" fill="#6e7a12"/>
<rect x="46.20" y="266.80" width="3.60" height="3.60" fill="#6e7a12"/>
<rect x="46.20" y="273.80" width="3.60" height="3.60" fill="#6e7a12"/>
<rect x="48.60" y="297.90" width="3.60" height="3.60" fill="#6e7a12"/>
<rect x="50.10" y="322.00" width="3.60" height="3.60" fill="#6e7a12"/>
<rect x="51.70" y="333.30" width="3.60" height="3.60" fill="#6e7a12"/>
<rect x="53.20" y="341.50" width="3.60" height="3.60" fill="#6e7a12"/>
<rect x="62.60" y="335.20" width="3.60" height="3.60" fill="#6e7a12"/>
<rect x="81.40" y="344.20" width="3.60" height="3.60" fill="#6e7a12"/>
<rect x="100.50" y="351.30" width="3.60" height="3.60" fill="#6e7a12"/>
<rect x="119.60" y="341.80" width="3.60" height="3.60" fill="#6e7a12"/>
<polyline points="45.20,277.60 45.80,282.50 46.20,265.60 47.60,257.80 50.00,281.00 51.50,303.80 53.20,320.00 55.00,328.80 64.40,326.30 83.20,338.20 102.30,342.20 121.40,335.50 140.10,346.70 159.10,344.80 196.90,343.60" fill="none" stroke="#ffb06a" stroke-width="0.7"/>
<line x1="64.40" y1="326.30" x2="64.40" y2="318.00" stroke="#ffc48e" stroke-width="0.6"/>
<line x1="62.90" y1="318.00" x2="65.90" y2="318.00" stroke="#ffc48e" stroke-width="0.6"/>
<line x1="83.20" y1="338.20" x2="83.20" y2="333.00" stroke="#ffc48e" stroke-width="0.6"/>
<line x1="81.70" y1="333.00" x2="84.70" y2="333.00" stroke="#ffc48e" stroke-width="0.6"/>
<line x1="102.30" y1="342.20" x2="102.30" y2="336.40" stroke="#ffc48e" stroke-width="0.6"/>
<line x1="100.80" y1="336.40" x2="103.80" y2="336.40" stroke="#ffc48e" stroke-width="0.6"/>
<line x1="121.40" y1="335.50" x2="121.40" y2="331.00" stroke="#ffc48e" stroke-width="0.6"/>
<line x1="119.90" y1="331.00" x2="122.90" y2="331.00" stroke="#ffc48e" stroke-width="0.6"/>
<line x1="140.10" y1="346.70" x2="140.10" y2="343.00" stroke="#ffc48e" stroke-width="0.6"/>
<line x1="138.60" y1="343.00" x2="141.60" y2="343.00" stroke="#ffc48e" stroke-width="0.6"/>
<line x1="159.10" y1="344.80" x2="159.10" y2="341.00" stroke="#ffc48e" stroke-width="0.6"/>
<line x1="157.60" y1="341.00" x2="160.60" y2="341.00" stroke="#ffc48e" stroke-width="0.6"/>
<line x1="196.90" y1="343.60" x2="196.90" y2="337.30" stroke="#ffc48e" stroke-width="0.6"/>
<line x1="195.40" y1="337.30" x2="198.40" y2="337.30" stroke="#ffc48e" stroke-width="0.6"/>
<circle cx="45.20" cy="277.60" r="2.10" fill="#ff7d05"/>
<circle cx="45.80" cy="282.50" r="2.10" fill="#ff7d05"/>
<circle cx="46.20" cy="265.60" r="2.10" fill="#ff7d05"/>
<circle cx="47.60" cy="257.80" r="2.10" fill="#ff7d05"/>
<circle cx="50.00" cy="281.00" r="2.10" fill="#ff7d05"/>
<circle cx="51.50" cy="303.80" r="2.10" fill="#ff7d05"/>
<circle cx="53.20" cy="320.00" r="2.10" fill="#ff7d05"/>
<circle cx="55.00" cy="328.80" r="2.10" fill="#ff7d05"/>
<circle cx="64.40" cy="326.30" r="2.10" fill="#ff7d05"/>
<circle cx="83.20" cy="338.20" r="2.10" fill="#ff7d05"/>
<circle cx="102.30" cy="342.20" r="2.10" fill="#ff7d05"/>
<circle cx="121.40" cy="335.50" r="2.10" fill="#ff7d05"/>
<circle cx="140.10" cy="346.70" r="2.10" fill="#ff7d05"/>
<circle cx="159.10" cy="344.80" r="2.10" fill="#ff7d05"/>
<circle cx="196.90" cy="343.60" r="2.10" fill="#ff7d05"/>
<polyline points="45.80,294.60 46.00,286.20 46.00,271.00 47.20,257.80 48.00,252.50 50.50,272.50 52.00,288.50 53.20,304.40 55.00,306.30 64.40,319.40 83.20,329.00 102.30,328.20 121.40,336.90 140.10,336.70 159.10,342.20 196.90,353.60 234.70,352.80" fill="none" stroke="#c86464" stroke-width="0.7"/>
<line x1="48.00" y1="252.50" x2="48.00" y2="249.50" stroke="#d98c8c" stroke-width="0.6"/>
<line x1="46.50" y1="249.50" x2="49.50" y2="249.50" stroke="#d98c8c" stroke-width="0.6"/>
<line x1="50.50" y1="272.50" x2="50.50" y2="265.60" stroke="#d98c8c" stroke-width="0.6"/>
<line x1="49.00" y1="265.60" x2="52.00" y2="265.60" stroke="#d98c8c" stroke-width="0.6"/>
<line x1="64.40" y1="319.40" x2="64.40" y2="311.90" stroke="#d98c8c" stroke-width="0.6"/>
<line x1="62.90" y1="311.90" x2="65.90" y2="311.90" stroke="#d98c8c" stroke-width="0.6"/>
<line x1="83.20" y1="329.00" x2="83.20" y2="324.20" stroke="#d98c8c" stroke-width="0.6"/>
<line x1="81.70" y1="324.20" x2="84.70" y2="324.20" stroke="#d98c8c" stroke-width="0.6"/>
<line x1="102.30" y1="328.20" x2="102.30" y2="319.10" stroke="#d98c8c" stroke-width="0.6"/>
<line x1="100.80" y1="319.10" x2="103.80" y2="319.10" stroke="#d98c8c" stroke-width="0.6"/>
<line x1="121.40" y1="336.90" x2="121.40" y2="328.20" stroke="#d98c8c" stroke-width="0.6"/>
<line x1="119.90" y1="328.20" x2="122.90" y2="328.20" stroke="#d98c8c" stroke-width="0.6"/>
<line x1="140.10" y1="336.70" x2="140.10" y2="328.70" stroke="#d98c8c" stroke-width="0.6"/>
<line x1="138.60" y1="328.70" x2="141.60" y2="328.70" stroke="#d98c8c" stroke-width="0.6"/>
<line x1="159.10" y1="342.20" x2="159.10" y2="338.50" stroke="#d98c8c" stroke-width="0.6"/>
<line x1="157.60" y1="338.50" x2="160.60" y2="338.50" stroke="#d98c8c" stroke-width="0.6"/>
<line x1="234.70" y1="352.80" x2="234.70" y2="350.50" stroke="#d98c8c" stroke-width="0.6"/>
<line x1="233.20" y1="350.50" x2="236.20" y2="350.50" stroke="#d98c8c" stroke-width="0.6"/>
<polygon points="45.80,291.69 48.50,296.72 43.10,296.72" fill="#8b0a0a"/>
<polygon points="46.00,283.29 48.70,288.31 43.30,288.31" fill="#8b0a0a"/>
<polygon points="46.00,268.09 48.70,273.12 43.30,273.12" fill="#8b0a0a"/>
<polygon points="47.20,254.89 49.90,259.92 44.50,259.92" fill="#8b0a0a"/>
<polygon points="48.00,249.59 50.70,254.62 45.30,254.62" fill="#8b0a0a"/>
<polygon points="50.50,269.59 53.20,274.62 47.80,274.62" fill="#8b0a0a"/>
<polygon points="52.00,285.59 54.70,290.62 49.30,290.62" fill="#8b0a0a"/>
<polygon points="53.20,301.49 55.90,306.51 50.50,306.51" fill="#8b0a0a"/>
<polygon points="55.00,303.39 57.70,308.42 52.30,308.42" fill="#8b0a0a"/>
<polygon points="64.40,316.49 67.10,321.51 61.70,321.51" fill="#8b0a0a"/>
<polygon points="83.20,326.09 85.90,331.12 80.50,331.12" fill="#8b0a0a"/>
<polygon points="102.30,325.29 105.00,330.31 99.60,330.31" fill="#8b0a0a"/>
<polygon points="121.40,333.99 124.10,339.01 118.70,339.01" fill="#8b0a0a"/>
<polygon points="140.10,333.79 142.80,338.81 137.40,338.81" fill="#8b0a0a"/>
<polygon points="159.10,339.29 161.80,344.31 156.40,344.31" fill="#8b0a0a"/>
<polygon points="196.90,350.69 199.60,355.72 194.20,355.72" fill="#8b0a0a"/>
<polygon points="234.70,349.89 237.40,354.92 232.00,354.92" fill="#8b0a0a"/>
<rect x="172.40" y="208.30" width="80.00" height="30.90" fill="#fff" stroke="#9a9a9a" stroke-width="0.8"/>
<line x1="177.30" y1="215.00" x2="194.50" y2="215.00" stroke="#dcdcc0" stroke-width="1.3"/>
<rect x="184.05" y="213.25" width="3.50" height="3.50" fill="#6e7a12"/>
<text x="0" y="0" font-family='"Liberation Sans", sans-serif' font-size="8.2" text-anchor="start" fill="#151515" stroke="#151515" stroke-width="0.22" font-weight="normal" transform="translate(196.90 217.30) scale(0.93 1)">rat-sc-2.5mg/kg</text>
<line x1="177.30" y1="224.60" x2="194.50" y2="224.60" stroke="#ffd4a8" stroke-width="1.3"/>
<circle cx="185.80" cy="224.60" r="2.00" fill="#ff7d05"/>
<text x="0" y="0" font-family='"Liberation Sans", sans-serif' font-size="8.2" text-anchor="start" fill="#151515" stroke="#151515" stroke-width="0.22" font-weight="normal" transform="translate(196.90 226.90) scale(0.93 1)">rat-sc-5mg/kg</text>
<line x1="177.30" y1="234.10" x2="194.50" y2="234.10" stroke="#ecc4c8" stroke-width="1.3"/>
<polygon points="185.80,231.43 188.27,236.03 183.33,236.03" fill="#8b0a0a"/>
<text x="0" y="0" font-family='"Liberation Sans", sans-serif' font-size="8.2" text-anchor="start" fill="#151515" stroke="#151515" stroke-width="0.22" font-weight="normal" transform="translate(196.90 236.40) scale(0.93 1)">rat-sc-10mg/kg</text>
<text x="0" y="0" font-family='"Liberation Serif", serif' font-size="12" text-anchor="middle" fill="#111" stroke="#111" stroke-width="0.15" font-weight="normal" transform="translate(284.50 235.00)">D</text>
<line x1="306.20" y1="228.70" x2="306.20" y2="362.90" stroke="#555" stroke-width="1.0"/>
<line x1="301.70" y1="362.90" x2="306.20" y2="362.90" stroke="#555" stroke-width="1.0"/>
<text x="0" y="0" font-family='"Liberation Sans", sans-serif' font-size="5.4" text-anchor="end" fill="#222" stroke="#222" stroke-width="0.15" font-weight="normal" transform="translate(299.60 364.90) scale(0.9 1)">0</text>
<line x1="304.20" y1="353.99" x2="306.20" y2="353.99" stroke="#555" stroke-width="0.8"/>
<line x1="304.20" y1="345.07" x2="306.20" y2="345.07" stroke="#555" stroke-width="0.8"/>
<line x1="304.20" y1="336.16" x2="306.20" y2="336.16" stroke="#555" stroke-width="0.8"/>
<line x1="304.20" y1="327.24" x2="306.20" y2="327.24" stroke="#555" stroke-width="0.8"/>
<line x1="301.70" y1="318.33" x2="306.20" y2="318.33" stroke="#555" stroke-width="1.0"/>
<text x="0" y="0" font-family='"Liberation Sans", sans-serif' font-size="5.4" text-anchor="end" fill="#222" stroke="#222" stroke-width="0.15" font-weight="normal" transform="translate(299.60 320.33) scale(0.9 1)">20</text>
<line x1="304.20" y1="309.42" x2="306.20" y2="309.42" stroke="#555" stroke-width="0.8"/>
<line x1="304.20" y1="300.50" x2="306.20" y2="300.50" stroke="#555" stroke-width="0.8"/>
<line x1="304.20" y1="291.59" x2="306.20" y2="291.59" stroke="#555" stroke-width="0.8"/>
<line x1="304.20" y1="282.67" x2="306.20" y2="282.67" stroke="#555" stroke-width="0.8"/>
<line x1="301.70" y1="273.76" x2="306.20" y2="273.76" stroke="#555" stroke-width="1.0"/>
<text x="0" y="0" font-family='"Liberation Sans", sans-serif' font-size="5.4" text-anchor="end" fill="#222" stroke="#222" stroke-width="0.15" font-weight="normal" transform="translate(299.60 275.76) scale(0.9 1)">40</text>
<line x1="304.20" y1="264.85" x2="306.20" y2="264.85" stroke="#555" stroke-width="0.8"/>
<line x1="304.20" y1="255.93" x2="306.20" y2="255.93" stroke="#555" stroke-width="0.8"/>
<line x1="304.20" y1="247.02" x2="306.20" y2="247.02" stroke="#555" stroke-width="0.8"/>
<line x1="304.20" y1="238.10" x2="306.20" y2="238.10" stroke="#555" stroke-width="0.8"/>
<line x1="301.70" y1="229.19" x2="306.20" y2="229.19" stroke="#555" stroke-width="1.0"/>
<text x="0" y="0" font-family='"Liberation Sans", sans-serif' font-size="5.4" text-anchor="end" fill="#222" stroke="#222" stroke-width="0.15" font-weight="normal" transform="translate(299.60 231.19) scale(0.9 1)">60</text>
<line x1="306.20" y1="362.90" x2="543.30" y2="362.90" stroke="#555" stroke-width="1.0"/>
<line x1="306.20" y1="362.90" x2="306.20" y2="367.20" stroke="#555" stroke-width="1.0"/>
<text x="0" y="0" font-family='"Liberation Sans", sans-serif' font-size="5.4" text-anchor="middle" fill="#222" stroke="#222" stroke-width="0.15" font-weight="normal" transform="translate(306.20 374.30) scale(0.9 1)">0</text>
<line x1="318.04" y1="362.90" x2="318.04" y2="365.30" stroke="#555" stroke-width="0.8"/>
<line x1="329.88" y1="362.90" x2="329.88" y2="365.30" stroke="#555" stroke-width="0.8"/>
<line x1="341.72" y1="362.90" x2="341.72" y2="365.30" stroke="#555" stroke-width="0.8"/>
<line x1="353.56" y1="362.90" x2="353.56" y2="365.30" stroke="#555" stroke-width="0.8"/>
<line x1="365.40" y1="362.90" x2="365.40" y2="367.20" stroke="#555" stroke-width="1.0"/>
<text x="0" y="0" font-family='"Liberation Sans", sans-serif' font-size="5.4" text-anchor="middle" fill="#222" stroke="#222" stroke-width="0.15" font-weight="normal" transform="translate(365.40 374.30) scale(0.9 1)">1</text>
<line x1="377.24" y1="362.90" x2="377.24" y2="365.30" stroke="#555" stroke-width="0.8"/>
<line x1="389.08" y1="362.90" x2="389.08" y2="365.30" stroke="#555" stroke-width="0.8"/>
<line x1="400.92" y1="362.90" x2="400.92" y2="365.30" stroke="#555" stroke-width="0.8"/>
<line x1="412.76" y1="362.90" x2="412.76" y2="365.30" stroke="#555" stroke-width="0.8"/>
<line x1="424.60" y1="362.90" x2="424.60" y2="367.20" stroke="#555" stroke-width="1.0"/>
<text x="0" y="0" font-family='"Liberation Sans", sans-serif' font-size="5.4" text-anchor="middle" fill="#222" stroke="#222" stroke-width="0.15" font-weight="normal" transform="translate(424.60 374.30) scale(0.9 1)">2</text>
<line x1="436.44" y1="362.90" x2="436.44" y2="365.30" stroke="#555" stroke-width="0.8"/>
<line x1="448.28" y1="362.90" x2="448.28" y2="365.30" stroke="#555" stroke-width="0.8"/>
<line x1="460.12" y1="362.90" x2="460.12" y2="365.30" stroke="#555" stroke-width="0.8"/>
<line x1="471.96" y1="362.90" x2="471.96" y2="365.30" stroke="#555" stroke-width="0.8"/>
<line x1="483.80" y1="362.90" x2="483.80" y2="367.20" stroke="#555" stroke-width="1.0"/>
<text x="0" y="0" font-family='"Liberation Sans", sans-serif' font-size="5.4" text-anchor="middle" fill="#222" stroke="#222" stroke-width="0.15" font-weight="normal" transform="translate(483.80 374.30) scale(0.9 1)">3</text>
<line x1="495.64" y1="362.90" x2="495.64" y2="365.30" stroke="#555" stroke-width="0.8"/>
<line x1="507.48" y1="362.90" x2="507.48" y2="365.30" stroke="#555" stroke-width="0.8"/>
<line x1="519.32" y1="362.90" x2="519.32" y2="365.30" stroke="#555" stroke-width="0.8"/>
<line x1="531.16" y1="362.90" x2="531.16" y2="365.30" stroke="#555" stroke-width="0.8"/>
<line x1="543.00" y1="362.90" x2="543.00" y2="367.20" stroke="#555" stroke-width="1.0"/>
<text x="0" y="0" font-family='"Liberation Sans", sans-serif' font-size="5.4" text-anchor="middle" fill="#222" stroke="#222" stroke-width="0.15" font-weight="normal" transform="translate(543.00 374.30) scale(0.9 1)">4</text>
<text x="0" y="0" font-family='"Liberation Sans", sans-serif' font-size="8.4" text-anchor="middle" fill="#222" stroke="#222" stroke-width="0.35" font-weight="normal" transform="translate(290.10 297.00) rotate(-90)">conc (ng/mL)</text>
<text x="0" y="0" font-family='"Liberation Sans", sans-serif' font-size="8.3" text-anchor="middle" fill="#222" stroke="#222" stroke-width="0.35" font-weight="normal" transform="translate(424.30 383.90)">time (h)</text>
<polyline points="311.00,307.10 320.60,309.00 335.60,305.60 365.10,308.20 424.30,318.00 483.60,300.20" fill="none" stroke="#b84450" stroke-width="0.7"/>
<line x1="311.00" y1="307.10" x2="311.00" y2="283.00" stroke="#c83444" stroke-width="0.8"/>
<line x1="308.75" y1="283.00" x2="313.25" y2="283.00" stroke="#c83444" stroke-width="0.8"/>
<line x1="311.00" y1="307.10" x2="311.00" y2="338.20" stroke="#c83444" stroke-width="0.8"/>
<line x1="308.75" y1="338.20" x2="313.25" y2="338.20" stroke="#c83444" stroke-width="0.8"/>
<line x1="320.60" y1="309.00" x2="320.60" y2="288.40" stroke="#c83444" stroke-width="0.8"/>
<line x1="318.35" y1="288.40" x2="322.85" y2="288.40" stroke="#c83444" stroke-width="0.8"/>
<line x1="320.60" y1="309.00" x2="320.60" y2="350.70" stroke="#c83444" stroke-width="0.8"/>
<line x1="318.35" y1="350.70" x2="322.85" y2="350.70" stroke="#c83444" stroke-width="0.8"/>
<line x1="335.60" y1="305.60" x2="335.60" y2="281.40" stroke="#c83444" stroke-width="0.8"/>
<line x1="333.35" y1="281.40" x2="337.85" y2="281.40" stroke="#c83444" stroke-width="0.8"/>
<line x1="335.60" y1="305.60" x2="335.60" y2="347.30" stroke="#c83444" stroke-width="0.8"/>
<line x1="333.35" y1="347.30" x2="337.85" y2="347.30" stroke="#c83444" stroke-width="0.8"/>
<line x1="365.10" y1="308.20" x2="365.10" y2="279.50" stroke="#c83444" stroke-width="0.8"/>
<line x1="362.85" y1="279.50" x2="367.35" y2="279.50" stroke="#c83444" stroke-width="0.8"/>
<line x1="365.10" y1="308.20" x2="365.10" y2="337.50" stroke="#c83444" stroke-width="0.8"/>
<line x1="362.85" y1="337.50" x2="367.35" y2="337.50" stroke="#c83444" stroke-width="0.8"/>
<line x1="424.30" y1="318.00" x2="424.30" y2="285.00" stroke="#c83444" stroke-width="0.8"/>
<line x1="422.05" y1="285.00" x2="426.55" y2="285.00" stroke="#c83444" stroke-width="0.8"/>
<line x1="424.30" y1="318.00" x2="424.30" y2="349.50" stroke="#c83444" stroke-width="0.8"/>
<line x1="422.05" y1="349.50" x2="426.55" y2="349.50" stroke="#c83444" stroke-width="0.8"/>
<line x1="483.60" y1="300.20" x2="483.60" y2="251.40" stroke="#c83444" stroke-width="0.8"/>
<line x1="481.35" y1="251.40" x2="485.85" y2="251.40" stroke="#c83444" stroke-width="0.8"/>
<line x1="483.60" y1="300.20" x2="483.60" y2="348.90" stroke="#c83444" stroke-width="0.8"/>
<line x1="481.35" y1="348.90" x2="485.85" y2="348.90" stroke="#c83444" stroke-width="0.8"/>
<polygon points="311.00,303.44 314.39,309.75 307.61,309.75" fill="#8b0a0a"/>
<polygon points="320.60,305.34 323.99,311.65 317.21,311.65" fill="#8b0a0a"/>
<polygon points="335.60,301.94 338.99,308.25 332.21,308.25" fill="#8b0a0a"/>
<polygon points="365.10,304.54 368.49,310.85 361.71,310.85" fill="#8b0a0a"/>
<polygon points="424.30,314.34 427.69,320.65 420.91,320.65" fill="#8b0a0a"/>
<polygon points="483.60,296.54 486.99,302.85 480.21,302.85" fill="#8b0a0a"/>
<polyline points="311.00,320.20 320.60,341.80 335.60,319.60 365.10,294.30 424.30,307.60 483.60,345.90" fill="none" stroke="#a9b060" stroke-width="0.7"/>
<line x1="311.00" y1="320.20" x2="311.00" y2="302.10" stroke="#c83444" stroke-width="0.8"/>
<line x1="308.75" y1="302.10" x2="313.25" y2="302.10" stroke="#c83444" stroke-width="0.8"/>
<line x1="311.00" y1="320.20" x2="311.00" y2="338.20" stroke="#c83444" stroke-width="0.8"/>
<line x1="308.75" y1="338.20" x2="313.25" y2="338.20" stroke="#c83444" stroke-width="0.8"/>
<line x1="320.60" y1="341.80" x2="320.60" y2="330.00" stroke="#c83444" stroke-width="0.8"/>
<line x1="318.35" y1="330.00" x2="322.85" y2="330.00" stroke="#c83444" stroke-width="0.8"/>
<line x1="320.60" y1="341.80" x2="320.60" y2="350.70" stroke="#c83444" stroke-width="0.8"/>
<line x1="318.35" y1="350.70" x2="322.85" y2="350.70" stroke="#c83444" stroke-width="0.8"/>
<line x1="335.60" y1="319.60" x2="335.60" y2="314.10" stroke="#c83444" stroke-width="0.8"/>
<line x1="333.35" y1="314.10" x2="337.85" y2="314.10" stroke="#c83444" stroke-width="0.8"/>
<line x1="335.60" y1="319.60" x2="335.60" y2="347.30" stroke="#c83444" stroke-width="0.8"/>
<line x1="333.35" y1="347.30" x2="337.85" y2="347.30" stroke="#c83444" stroke-width="0.8"/>
<line x1="365.10" y1="294.30" x2="365.10" y2="257.50" stroke="#c83444" stroke-width="0.8"/>
<line x1="362.85" y1="257.50" x2="367.35" y2="257.50" stroke="#c83444" stroke-width="0.8"/>
<line x1="365.10" y1="294.30" x2="365.10" y2="335.00" stroke="#c83444" stroke-width="0.8"/>
<line x1="362.85" y1="335.00" x2="367.35" y2="335.00" stroke="#c83444" stroke-width="0.8"/>
<line x1="424.30" y1="307.60" x2="424.30" y2="275.50" stroke="#c83444" stroke-width="0.8"/>
<line x1="422.05" y1="275.50" x2="426.55" y2="275.50" stroke="#c83444" stroke-width="0.8"/>
<line x1="424.30" y1="307.60" x2="424.30" y2="340.50" stroke="#c83444" stroke-width="0.8"/>
<line x1="422.05" y1="340.50" x2="426.55" y2="340.50" stroke="#c83444" stroke-width="0.8"/>
<line x1="483.60" y1="345.90" x2="483.60" y2="342.90" stroke="#c83444" stroke-width="0.8"/>
<line x1="481.35" y1="342.90" x2="485.85" y2="342.90" stroke="#c83444" stroke-width="0.8"/>
<line x1="483.60" y1="345.90" x2="483.60" y2="348.90" stroke="#c83444" stroke-width="0.8"/>
<line x1="481.35" y1="348.90" x2="485.85" y2="348.90" stroke="#c83444" stroke-width="0.8"/>
<rect x="308.75" y="317.95" width="4.50" height="4.50" fill="#6e7a12"/>
<rect x="318.35" y="339.55" width="4.50" height="4.50" fill="#6e7a12"/>
<rect x="333.35" y="317.35" width="4.50" height="4.50" fill="#6e7a12"/>
<rect x="362.85" y="292.05" width="4.50" height="4.50" fill="#6e7a12"/>
<rect x="422.05" y="305.35" width="4.50" height="4.50" fill="#6e7a12"/>
<rect x="481.35" y="343.65" width="4.50" height="4.50" fill="#6e7a12"/>
<polyline points="311.00,327.20 320.60,323.80 335.60,332.60 365.10,330.00" fill="none" stroke="#ffa050" stroke-width="0.7"/>
<line x1="311.00" y1="327.20" x2="311.00" y2="318.00" stroke="#c83444" stroke-width="0.8"/>
<line x1="308.75" y1="318.00" x2="313.25" y2="318.00" stroke="#c83444" stroke-width="0.8"/>
<line x1="311.00" y1="327.20" x2="311.00" y2="330.20" stroke="#c83444" stroke-width="0.8"/>
<line x1="308.75" y1="330.20" x2="313.25" y2="330.20" stroke="#c83444" stroke-width="0.8"/>
<line x1="320.60" y1="323.80" x2="320.60" y2="314.00" stroke="#c83444" stroke-width="0.8"/>
<line x1="318.35" y1="314.00" x2="322.85" y2="314.00" stroke="#c83444" stroke-width="0.8"/>
<line x1="320.60" y1="323.80" x2="320.60" y2="334.00" stroke="#c83444" stroke-width="0.8"/>
<line x1="318.35" y1="334.00" x2="322.85" y2="334.00" stroke="#c83444" stroke-width="0.8"/>
<line x1="335.60" y1="332.60" x2="335.60" y2="322.00" stroke="#c83444" stroke-width="0.8"/>
<line x1="333.35" y1="322.00" x2="337.85" y2="322.00" stroke="#c83444" stroke-width="0.8"/>
<line x1="335.60" y1="332.60" x2="335.60" y2="342.00" stroke="#c83444" stroke-width="0.8"/>
<line x1="333.35" y1="342.00" x2="337.85" y2="342.00" stroke="#c83444" stroke-width="0.8"/>
<line x1="365.10" y1="330.00" x2="365.10" y2="322.50" stroke="#c83444" stroke-width="0.8"/>
<line x1="362.85" y1="322.50" x2="367.35" y2="322.50" stroke="#c83444" stroke-width="0.8"/>
<line x1="365.10" y1="330.00" x2="365.10" y2="337.50" stroke="#c83444" stroke-width="0.8"/>
<line x1="362.85" y1="337.50" x2="367.35" y2="337.50" stroke="#c83444" stroke-width="0.8"/>
<circle cx="311.00" cy="327.20" r="2.25" fill="#ff7d05"/>
<circle cx="320.60" cy="323.80" r="2.25" fill="#ff7d05"/>
<circle cx="335.60" cy="332.60" r="2.25" fill="#ff7d05"/>
<circle cx="365.10" cy="330.00" r="2.25" fill="#ff7d05"/>
<rect x="460.40" y="213.60" width="86.00" height="30.90" fill="#fff" stroke="#9a9a9a" stroke-width="0.8"/>
<line x1="466.00" y1="219.60" x2="484.20" y2="219.60" stroke="#c8cc98" stroke-width="0.8"/>
<rect x="473.25" y="217.85" width="3.50" height="3.50" fill="#6e7a12"/>
<text x="0" y="0" font-family='"Liberation Sans", sans-serif' font-size="8.7" text-anchor="start" fill="#151515" stroke="#151515" stroke-width="0.22" font-weight="normal" transform="translate(486.40 222.18) scale(0.95 1)">rat-po-2.5mg/kg</text>
<line x1="466.00" y1="229.50" x2="484.20" y2="229.50" stroke="#ffc890" stroke-width="0.8"/>
<circle cx="475.00" cy="229.50" r="2.00" fill="#ff7d05"/>
<text x="0" y="0" font-family='"Liberation Sans", sans-serif' font-size="8.7" text-anchor="start" fill="#151515" stroke="#151515" stroke-width="0.22" font-weight="normal" transform="translate(486.40 232.08) scale(0.95 1)">rat-po-5m/kg</text>
<line x1="466.00" y1="239.10" x2="484.20" y2="239.10" stroke="#a83a3a" stroke-width="0.8"/>
<polygon points="475.00,236.43 477.47,241.03 472.53,241.03" fill="#8b0a0a"/>
<text x="0" y="0" font-family='"Liberation Sans", sans-serif' font-size="8.7" text-anchor="start" fill="#151515" stroke="#151515" stroke-width="0.22" font-weight="normal" transform="translate(486.40 241.68) scale(0.95 1)">rat-po-10mg/kg</text>
</g></svg>
</body></html>
